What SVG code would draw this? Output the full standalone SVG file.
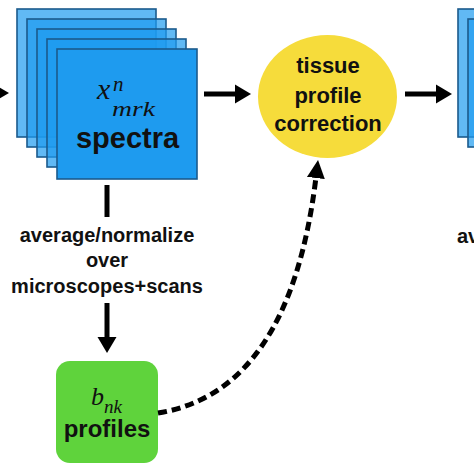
<svg xmlns="http://www.w3.org/2000/svg" width="474" height="474" viewBox="0 0 474 474">
<defs>
<style>
.lbl{font-family:"Liberation Sans",Arial,sans-serif;font-weight:bold;fill:#111;text-anchor:middle}
.math{font-family:"Liberation Serif","Times New Roman",serif;font-style:italic;fill:#111}
.back{fill:#1e9bef;fill-opacity:0.7;stroke:#1b5a8c;stroke-width:1.6}
.front{fill:#1e9bef;stroke:#1b5a8c;stroke-width:1.6}
.conn{stroke:#000;stroke-width:5;fill:none}
</style>
<marker id="ah" viewBox="0 0 16 20" markerWidth="16" markerHeight="20" refX="0" refY="10" orient="auto" markerUnits="userSpaceOnUse">
<path d="M0,0.5 L16,10 L0,19.5 z" fill="#000"/>
</marker>
<marker id="ahd" viewBox="0 0 18 20" markerWidth="18" markerHeight="20" refX="1" refY="10" orient="auto" markerUnits="userSpaceOnUse">
<path d="M0,1 L18,10 L0,19 z" fill="#000"/>
</marker>
</defs>
<rect width="474" height="474" fill="#fff"/>

<g id="spectra-stack">
<rect class="back" x="17" y="9" width="139" height="128"/>
<rect class="back" x="27" y="19" width="139" height="128"/>
<rect class="back" x="37" y="29" width="139" height="128"/>
<rect class="back" x="47" y="39" width="139" height="128"/>
<rect class="front" x="57" y="49" width="140" height="130"/>
<text class="math" x="97" y="99" font-size="30">x</text>
<text class="math" x="113" y="91" font-size="21">n</text>
<text class="math" x="112" y="116" font-size="21" textLength="43" lengthAdjust="spacingAndGlyphs">mrk</text>
<text class="lbl" x="127.5" y="148" font-size="29">spectra</text>
</g>

<g id="tissue-correction">
<ellipse cx="327.5" cy="96.5" rx="69.5" ry="61.5" fill="#f6dc3b"/>
<text class="lbl" x="328" y="73" font-size="22">tissue</text>
<text class="lbl" x="328" y="103" font-size="22">profile</text>
<text class="lbl" x="328" y="131" font-size="22">correction</text>
</g>

<g id="right-stack">
<rect class="back" x="458" y="9" width="139" height="128"/>
<rect class="back" x="468" y="19" width="139" height="128"/>
<text class="lbl" x="457" y="243" font-size="20" style="text-anchor:start">av</text>
</g>

<g id="avg-label">
<text class="lbl" x="107" y="242" font-size="20">average/normalize</text>
<text class="lbl" x="107" y="267" font-size="20">over</text>
<text class="lbl" x="107" y="293" font-size="20">microscopes+scans</text>
</g>

<g id="profiles">
<rect x="56" y="361" width="102" height="102" rx="14" fill="#5fd33c"/>
<text class="math" x="91" y="405" font-size="26">b</text>
<text class="math" x="104" y="413" font-size="19">nk</text>
<text class="lbl" x="107" y="437" font-size="24">profiles</text>
</g>

<g id="connectors">
<line class="conn" x1="-20" y1="93" x2="-7" y2="93" marker-end="url(#ah)"/>
<line class="conn" x1="204" y1="94" x2="235" y2="94" marker-end="url(#ah)"/>
<line class="conn" x1="405" y1="94" x2="436" y2="94" marker-end="url(#ah)"/>
<line class="conn" x1="107" y1="185" x2="107" y2="217"/>
<line class="conn" x1="107" y1="303" x2="107" y2="337" marker-end="url(#ah)"/>
<path class="conn" d="M158,413 Q290,392 316,177" stroke-dasharray="9,5" marker-end="url(#ahd)"/>
</g>
</svg>
